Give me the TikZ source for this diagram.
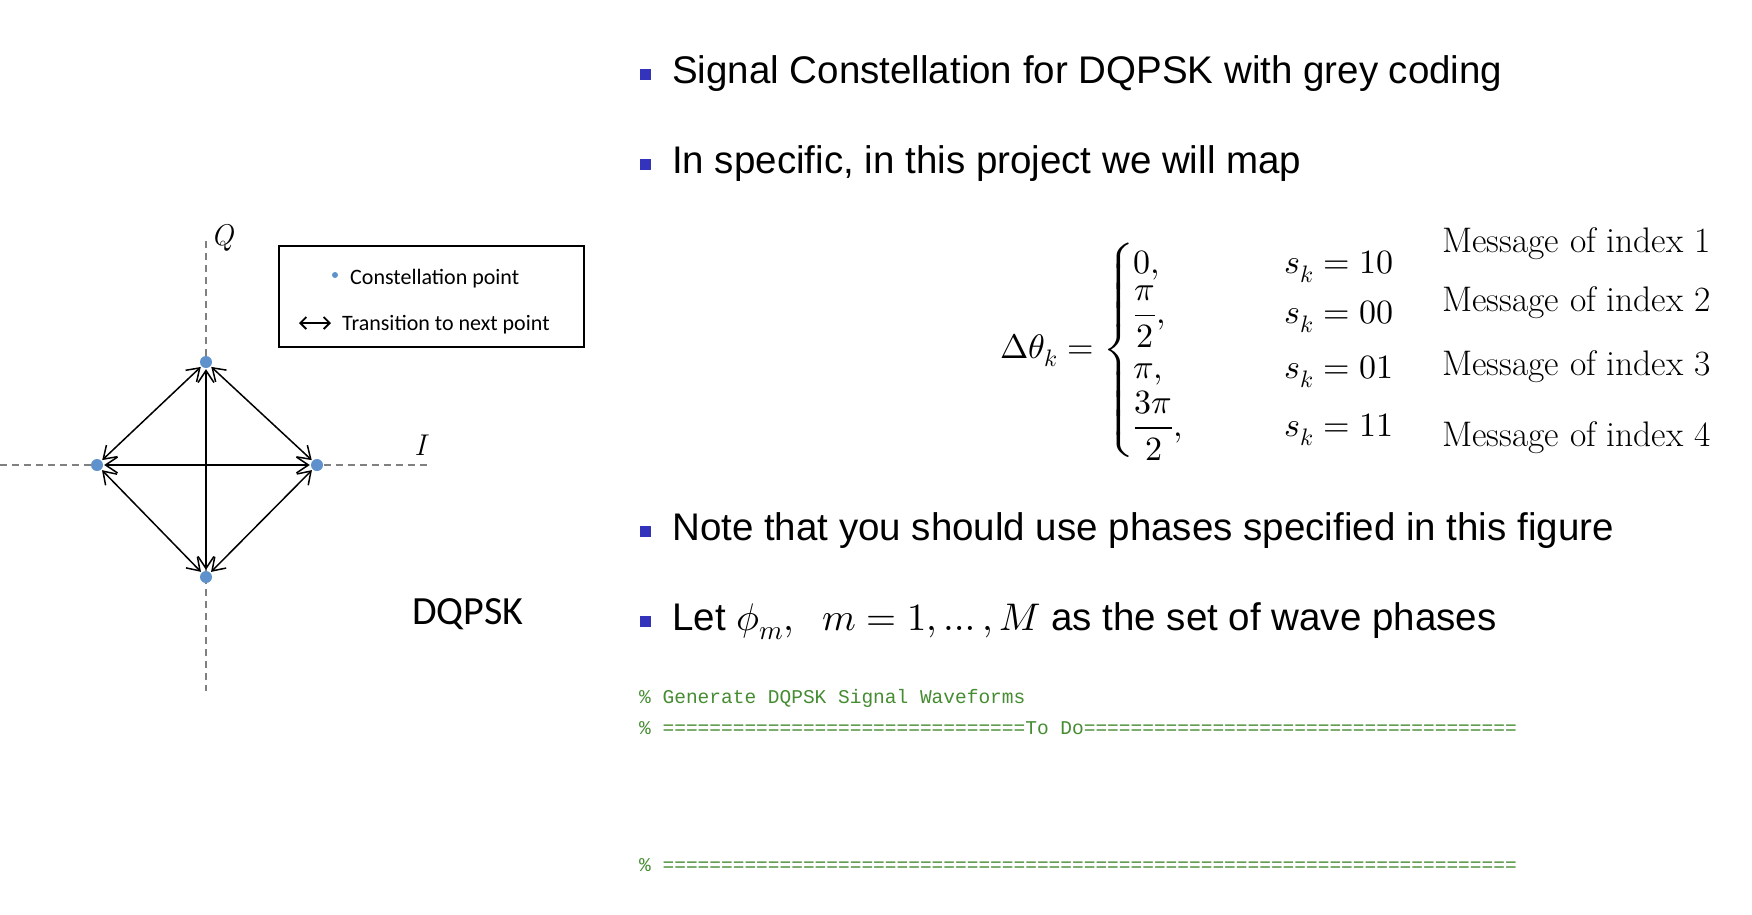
\documentclass[tikz,border=0pt]{standalone}
\usepackage{amsmath}
\usepackage{fontspec}
\usepackage{unicode-math}
\setmathfont{Latin Modern Math}
\setmainfont{Liberation Sans}
\newfontfamily\serf{Latin Modern Roman}
\newfontfamily\calib{Carlito}
\newfontfamily\codef{Liberation Mono}
\usetikzlibrary{arrows.meta}
\definecolor{ptblue}{RGB}{95,145,205}
\definecolor{bulblue}{RGB}{51,51,187}
\definecolor{codegreen}{RGB}{70,140,50}
\tikzset{
  pt/.style={circle,fill=ptblue,inner sep=0pt,minimum size=12pt},
  trans/.style={{Straight Barb[length=12pt,width=16pt]}-{Straight Barb[length=12pt,width=16pt]},line width=1.5pt,shorten <=1pt,shorten >=1pt},
  axis/.style={gray,line width=1.3pt,dash pattern=on 7pt off 5pt},
  bul/.style={fill=bulblue,minimum size=11pt,inner sep=0pt},
  btext/.style={anchor=west,font=\fontsize{38.5}{44}\selectfont,inner sep=0pt},
  msg/.style={anchor=west,font=\serf\fontsize{35.5}{40}\selectfont,inner sep=0pt},
  codel/.style={anchor=west,font=\codef\fontsize{19.5}{22}\selectfont,text=codegreen,inner sep=0pt}
}
\begin{document}
\begin{tikzpicture}[x=1pt,y=-1pt]
\useasboundingbox (0,0) rectangle (1752,914);
% axes
\coordinate (hl) at (0,465); \coordinate (hr) at (427,465);
\coordinate (vt) at (206,241); \coordinate (vb) at (206,691);
\draw[axis] (hl) -- (hr);
\draw[axis] (vt) -- (vb);
\node[font=\serf\itshape\fontsize{30}{32}\selectfont] (Q) at (222,238) {Q};
\node[font=\serf\itshape\fontsize{30}{32}\selectfont] (I) at (420,445) {I};
% points
\node[pt] (top) at (206,362) {};
\node[pt] (bot) at (206,577) {};
\node[pt] (lft) at (97,465) {};
\node[pt] (rgt) at (317,465) {};
\draw[trans] (top) -- (lft);
\draw[trans] (top) -- (rgt);
\draw[trans] (bot) -- (lft);
\draw[trans] (bot) -- (rgt);
\draw[trans] (top) -- (bot);
\draw[trans] (lft) -- (rgt);
% legend
\node[draw,line width=1.5pt,minimum width=305pt,minimum height=101pt,anchor=north west] (leg) at (278,245) {};
\node[circle,fill=ptblue,inner sep=0pt,minimum size=6pt] (ldot) at (335,275) {};
\node[anchor=west,font=\calib\fontsize{22}{24}\selectfont,inner sep=0pt] (lt1) at (350,279) {Constellation point};
\coordinate (la1) at (299,323); \coordinate (la2) at (331,323);
\draw[{Straight Barb[length=6pt,width=12pt]}-{Straight Barb[length=6pt,width=12pt]},line width=1.8pt] (la1) -- (la2);
\node[anchor=west,font=\calib\fontsize{22}{24}\selectfont,inner sep=0pt] (lt2) at (342,325) {Transition to next point};
\node[font=\calib\fontsize{40}{44}\selectfont] (dq) at (468,614) {DQPSK};
% bullets
\node[bul] (b1) at (645,74) {}; \node[btext] (t1) at (672,74) {Signal Constellation for DQPSK with grey coding};
\node[bul] (b2) at (645,164) {}; \node[btext] (t2) at (672,164) {In specific, in this project we will map};
\node[bul] (b3) at (645,531) {}; \node[btext] (t3) at (672,531) {Note that you should use phases specified in this figure};
\node[bul] (b4) at (645,621) {}; \node[btext] (t4) at (672,621) {Let $\phi_m,\ \ m=1,\ldots,M$ as the set of wave phases};
% equation
\node[anchor=west,font=\fontsize{34}{40}\selectfont,inner sep=0pt] (eq) at (1000,350) {$\Delta\theta_k=\begin{cases}0, & \qquad s_k=10\\[-2pt] \dfrac{\pi}{2}, & \qquad s_k=00\\[-2pt] \pi, & \qquad s_k=01\\[-2pt] \dfrac{3\pi}{2}, & \qquad s_k=11\end{cases}$};
\node[msg] (m1) at (1442,244) {Message of index 1};
\node[msg] (m2) at (1442,303) {Message of index 2};
\node[msg] (m3) at (1442,367) {Message of index 3};
\node[msg] (m4) at (1442,438) {Message of index 4};
% code
\node[codel] (c1) at (639,698) {\% Generate DQPSK Signal Waveforms};
\node[codel] (c2) at (639,728) {\% ===============================To Do=====================================};
\node[codel] (c3) at (639,865) {\% =========================================================================};
\end{tikzpicture}
\end{document}
